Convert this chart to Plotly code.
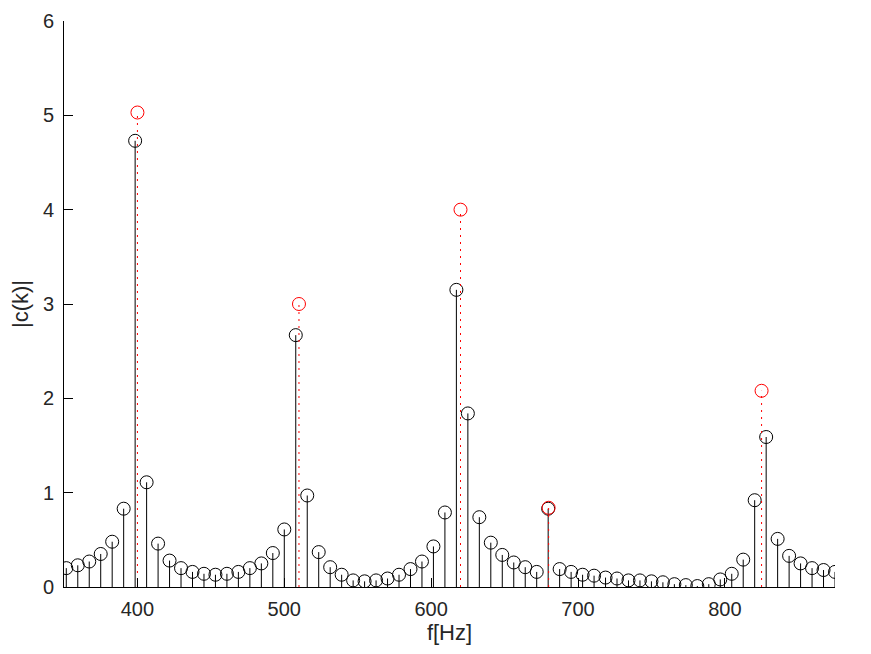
import plotly.graph_objects as go

# DFT bin frequencies (Hz) and magnitudes |c(k)|
freqs = [351.56, 359.38, 367.19, 375.00, 382.81, 390.63, 398.44, 406.25, 414.06, 421.88,
         429.69, 437.50, 445.31, 453.13, 460.94, 468.75, 476.56, 484.38, 492.19, 500.00,
         507.81, 515.63, 523.44, 531.25, 539.06, 546.88, 554.69, 562.50, 570.31, 578.13,
         585.94, 593.75, 601.56, 609.38, 617.19, 625.00, 632.81, 640.63, 648.44, 656.25,
         664.06, 671.88, 679.69, 687.50, 695.31, 703.13, 710.94, 718.75, 726.56, 734.38,
         742.19, 750.00, 757.81, 765.63, 773.44, 781.25, 789.06, 796.88, 804.69, 812.50,
         820.31, 828.13, 835.94, 843.75, 851.56, 859.38, 867.19, 875.00]
mags = [0.20, 0.23, 0.27, 0.35, 0.48, 0.83, 4.73, 1.11, 0.46, 0.28,
        0.20, 0.16, 0.14, 0.13, 0.14, 0.16, 0.20, 0.25, 0.36, 0.61,
        2.67, 0.97, 0.37, 0.21, 0.13, 0.07, 0.06, 0.07, 0.09, 0.13,
        0.19, 0.27, 0.43, 0.79, 3.15, 1.84, 0.74, 0.47, 0.34, 0.26,
        0.21, 0.16, 0.83, 0.19, 0.16, 0.13, 0.12, 0.10, 0.09, 0.07,
        0.07, 0.06, 0.05, 0.03, 0.02, 0.01, 0.03, 0.08, 0.14, 0.29,
        0.92, 1.59, 0.51, 0.33, 0.25, 0.20, 0.18, 0.16]

# true component frequencies and amplitudes
true_freqs = [400, 510, 620, 680, 825]
true_amps = [5.03, 3.0, 4.0, 0.84, 2.08]

x_ticks = [400, 500, 600, 700, 800]
y_ticks = [0, 1, 2, 3, 4, 5, 6]


def stems(xs, ys):
    sx, sy = [], []
    for xv, yv in zip(xs, ys):
        sx += [xv, xv, None]
        sy += [0, yv, None]
    return sx, sy


fig = go.Figure()

bx, by = stems(freqs, mags)
fig.add_trace(go.Scatter(x=bx, y=by, mode="lines",
                         line=dict(color="black", width=1), hoverinfo="skip"))
fig.add_trace(go.Scatter(x=freqs, y=mags, mode="markers",
                         marker=dict(symbol="circle-open", size=13, color="black",
                                     line=dict(width=1, color="black"))))

rx, ry = stems(true_freqs, true_amps)
fig.add_trace(go.Scatter(x=rx, y=ry, mode="lines",
                         line=dict(color="red", width=1, dash="2px,5px"), hoverinfo="skip"))
fig.add_trace(go.Scatter(x=true_freqs, y=true_amps, mode="markers",
                         marker=dict(symbol="circle-open", size=13, color="red",
                                     line=dict(width=1, color="red"))))

tick_font = dict(family="Liberation Sans, Arial, sans-serif", size=20, color="#262626")
title_font = dict(family="Liberation Sans, Arial, sans-serif", size=22, color="#262626")

# page body has an 8px margin, so the figure is offset by (8, 8)
fig.update_layout(
    width=863, height=646,
    margin=dict(l=56, r=36, t=13, b=67, autoexpand=False),
    plot_bgcolor="white", paper_bgcolor="white",
    showlegend=False,
    font=tick_font,
    xaxis=dict(range=[350, 875], tickvals=x_ticks, ticks="inside", ticklen=9,
               tickcolor="black", showline=True, linecolor="black", linewidth=1,
               showgrid=False, zeroline=False, mirror=False,
               ticklabelstandoff=4,
               title=dict(text="f[Hz]", font=title_font, standoff=4),
               tickfont=tick_font, automargin=False),
    yaxis=dict(range=[0, 6], tickvals=y_ticks, ticks="inside", ticklen=9,
               tickcolor="black", showline=True, linecolor="black", linewidth=1,
               showgrid=False, zeroline=False, mirror=False,
               ticklabelstandoff=5,
               title=dict(text="|c(k)|", font=title_font, standoff=12),
               tickfont=tick_font, automargin=False),
)

fig.write_html("out.html")
